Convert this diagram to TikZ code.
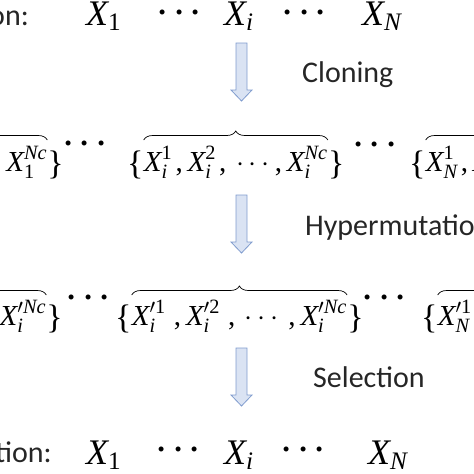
\RequirePackage{fix-cm}
\documentclass[tikz,border=0pt]{standalone}
\usepackage{amsmath}
\usepackage{fontspec}
\usetikzlibrary{decorations.pathreplacing}
\setmainfont{Liberation Serif}
\newfontfamily\calib{Carlito}
\definecolor{arrfill}{RGB}{218,227,243}
\definecolor{arrline}{RGB}{128,156,206}
\definecolor{labtext}{RGB}{38,38,38}
\newcommand{\tX}{\text{\itshape X}}
\newcommand{\tI}{\text{\itshape i}}
\newcommand{\tN}{\text{\itshape N}}
\newcommand{\tNc}{\text{\itshape Nc}}
\newcommand{\tOne}{\text{1}}
\newcommand{\tTwo}{\text{2}}
\newcommand{\cm}{\text{,}\,}
\newcommand{\bigbr}[1]{\raisebox{-3.5pt}{\fontsize{34}{38}\selectfont #1}}
\newcommand{\itemsA}[1]{\tX^{\tOne}_{#1}\mkern2mu\cm \tX^{\tTwo}_{#1}\mkern2mu\cm \cdots\cm \tX^{\tNc}_{#1}}
\newcommand{\itemsB}[1]{\tX^{\prime\tOne}_{#1}\;\cm \tX^{\prime\tTwo}_{#1}\;\cm \cdots\,\cm \tX^{\prime\tNc}_{#1}}
% set anchored at its left end: name, x, y, items, brace offset
\newcommand{\setwest}[5]{%
  \node[setm, anchor=base west] (#1o) at (#2,#3) {\bigbr{\{}};
  \node[setm, anchor=base west] (#1c) at (#1o.base east) {$#4$};
  \node[setm, anchor=base west] (#1e) at (#1c.base east) {\bigbr{\}}};
  \draw[obrace] ([yshift=#5]#1c.base west) -- ([yshift=#5]#1c.base east);}
% set anchored at its right end
\newcommand{\seteast}[5]{%
  \node[setm, anchor=base east] (#1e) at (#2,#3) {\bigbr{\}}};
  \node[setm, anchor=base east] (#1c) at (#1e.base west) {$#4$};
  \node[setm, anchor=base east] (#1o) at (#1c.base west) {\bigbr{\{}};
  \draw[obrace] ([yshift=#5]#1c.base west) -- ([yshift=#5]#1c.base east);}
\newcommand{\blockarr}[3]{%
  \draw[blockarrow] (#1-5.5,#2) -- (#1+5.5,#2) -- (#1+5.5,#3-11) -- (#1+10.5,#3-11)
    -- (#1,#3) -- (#1-10.5,#3-11) -- (#1-5.5,#3-11) -- cycle;}
\tikzset{
  lab/.style={font=\calib\fontsize{30}{36}\selectfont, inner sep=0, text=labtext},
  bigm/.style={font=\fontsize{36}{42}\selectfont, inner sep=0, anchor=base west},
  setm/.style={font=\fontsize{29}{34}\selectfont, inner sep=0},
  dotsm/.style={font=\fontsize{32}{36}\selectfont\boldmath, inner sep=0, anchor=base},
  obrace/.style={decorate, decoration={brace, amplitude=9pt}, line width=0.7pt},
  blockarrow/.style={draw=arrline, fill=arrfill, line width=0.8pt, line join=miter}
}
\begin{document}
\begin{tikzpicture}[x=1pt,y=-1pt]
\useasboundingbox (0,0) rectangle (474,474);
\clip (0,0) rectangle (474,474);
% row 1
\node[lab, anchor=base east] (pop) at (29,25) {on:};
\node[bigm] (x1) at (86,25) {$\tX_{\tOne}$};
\node[dotsm] (d11) at (182.5,20) {$\cdots$};
\node[bigm] (xi) at (224,25) {$\tX_{\tI}$};
\node[dotsm] (d12) at (307.5,20) {$\cdots$};
\node[bigm] (xn) at (362,25) {$\tX_{\tN}$};
% arrow 1
\blockarr{241.5}{43}{101}
\node[lab, anchor=base west] (clon) at (302,82) {Cloning};
% row 2
\seteast{sa}{64}{171}{\itemsA{\tOne}}{31pt}
\node[dotsm] (d21) at (88,151) {$\cdots$};
\setwest{sb}{127}{171}{\itemsA{\tI}}{31pt}
\node[dotsm] (d22) at (378,152) {$\cdots$};
\setwest{sc}{409}{171}{\itemsA{\tN}}{31pt}
% arrow 2
\blockarr{241.5}{195}{253}
\node[lab, anchor=base west] (hyp) at (305,235) {Hypermutation};
% row 3
\seteast{ta}{63}{325}{\itemsB{\tI}}{30pt}
\node[dotsm] (d31) at (91.5,305) {$\cdots$};
\setwest{tb}{115}{325}{\itemsB{\tI}}{30pt}
\node[dotsm] (d32) at (387.5,305) {$\cdots$};
\setwest{tc}{421}{325}{\itemsB{\tN}}{30pt}
% arrow 3
\blockarr{241.5}{348}{406}
\node[lab, anchor=base west] (sel) at (313,387) {Selection};
% row 4
\node[lab, anchor=base east] (newpop) at (52,462) {tion:};
\node[bigm] (y1) at (86,464) {$\tX_{\tOne}$};
\node[dotsm] (d41) at (181.5,457) {$\cdots$};
\node[bigm] (yi) at (224,464) {$\tX_{\tI}$};
\node[dotsm] (d42) at (306.5,457) {$\cdots$};
\node[bigm] (yn) at (368,464) {$\tX_{\tN}$};
\end{tikzpicture}
\end{document}
